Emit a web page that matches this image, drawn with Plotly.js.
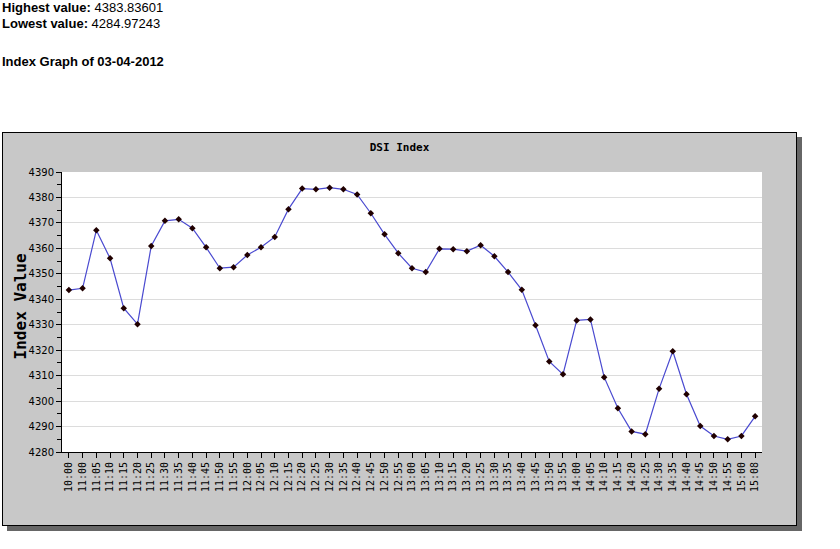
<!DOCTYPE html>
<html>
<head>
<meta charset="utf-8">
<script src="https://cdn.plot.ly/plotly-3.0.1.min.js"></script>
<style>
body { margin: 0; background: #fff; font-family: "Liberation Sans", Arial, sans-serif; }
.info { position: absolute; left: 2px; font-size: 13px; color: #000; line-height: 16px; }
#frame { position: absolute; left: 2px; top: 132px; width: 793px; height: 392px;
  border: 1px solid #000; background: #c8c8c8; box-shadow: 5px 5px 0 #666; }
#chart { width: 793px; height: 392px; }
</style>
</head>
<body>
<div class="info" style="top:0px"><b>Highest value:</b> 4383.83601<br><b>Lowest value:</b> 4284.97243</div>
<div class="info" style="top:54px"><b>Index Graph of 03-04-2012</b></div>
<div id="frame"><div id="chart"></div></div>
<script>
// times of the day
let times = ["10:00","11:00","11:05","11:10","11:15","11:20","11:25","11:30","11:35","11:40",
  "11:45","11:50","11:55","12:00","12:05","12:10","12:15","12:20","12:25","12:30",
  "12:35","12:40","12:45","12:50","12:55","13:00","13:05","13:10","13:15","13:20",
  "13:25","13:30","13:35","13:40","13:45","13:50","13:55","14:00","14:05","14:10",
  "14:15","14:20","14:25","14:30","14:35","14:40","14:45","14:50","14:55","15:00","15:08"]

// index values
let values = [4343.6,4344.3,4367.1,4356.1,4336.5,4330.2,4360.9,4370.8,4371.4,4367.9,
  4360.4,4352.2,4352.6,4357.4,4360.4,4364.5,4375.4,4383.5,4383.2,4383.84,
  4383.2,4381.2,4373.8,4365.5,4358.1,4352.2,4350.7,4359.8,4359.7,4358.9,
  4361.2,4356.9,4350.7,4343.7,4329.8,4315.6,4310.5,4331.7,4332.1,4309.4,
  4297.2,4288.1,4287.0,4304.8,4319.6,4302.7,4290.2,4286.3,4284.97,4286.3,4294.0]

let yTicks = [4280,4290,4300,4310,4320,4330,4340,4350,4360,4370,4380,4390]

function plotIndex(){
  let data = [{
    x: times,
    y: values,
    type: 'scatter',
    mode: 'lines+markers',
    line: {color: '#4a4ad0', width: 1.2},
    marker: {symbol: 'diamond', size: 5, color: '#200000'},
    hoverinfo: 'x+y'
  }]
  let layout = {
    width: 793,
    height: 392,
    margin: {l: 59, r: 34, t: 39, b: 73},
    paper_bgcolor: '#c8c8c8',
    plot_bgcolor: '#ffffff',
    showlegend: false,
    title: {text: '<b>DSI Index</b>', x: 0.5, y: 0.975, yanchor: 'top',
      font: {family: 'DejaVu Sans Mono', size: 11, color: '#000'}},
    xaxis: {
      type: 'category',
      range: [-0.5, times.length - 0.5],
      tickangle: -90,
      ticks: 'outside', ticklen: 5, tickcolor: '#000',
      showgrid: false,
      showline: true, linecolor: '#000', linewidth: 1,
      tickfont: {family: 'DejaVu Sans Mono', size: 10, color: '#000'},
      fixedrange: true
    },
    yaxis: {
      range: [4280, 4390],
      tickvals: yTicks,
      ticks: 'outside', ticklen: 5, tickcolor: '#000',
      minor: {dtick: 5, ticks: 'outside', ticklen: 4, tickcolor: '#000', showgrid: false},
      showgrid: true, gridcolor: '#dcdcdc',
      zeroline: false,
      showline: true, linecolor: '#000', linewidth: 1,
      tickfont: {family: 'DejaVu Sans', size: 10, color: '#000'},
      fixedrange: true
    },
    annotations: [{
      text: '<b>Index Value</b>', textangle: -90,
      xref: 'paper', yref: 'paper', x: -0.06, y: 0.52,
      xanchor: 'center', yanchor: 'middle', showarrow: false,
      font: {family: 'DejaVu Sans Mono', size: 16, color: '#000'}
    }]
  }
  Plotly.newPlot('chart', data, layout, {displayModeBar: false, staticPlot: true})
}

plotIndex()
</script>
</body>
</html>
